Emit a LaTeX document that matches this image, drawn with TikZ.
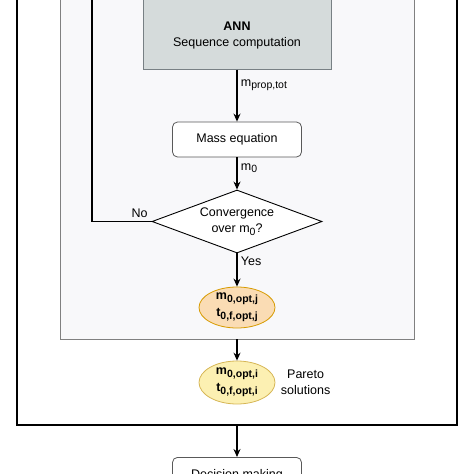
\documentclass[tikz,border=0pt]{standalone}
\usepackage{fontspec}
\setmainfont{Liberation Sans}
\usetikzlibrary{arrows.meta,positioning,shapes.geometric}

\definecolor{annfill}{RGB}{213,219,219}
\definecolor{annline}{RGB}{120,128,132}
\definecolor{boxfill}{RGB}{248,248,250}
\definecolor{optfill}{RGB}{250,220,180}
\definecolor{optline}{RGB}{215,155,0}
\definecolor{parfill}{RGB}{252,240,178}
\definecolor{parline}{RGB}{214,182,86}

% larger subscripts than \textsubscript
\newcommand{\lowsub}[1]{\raisebox{-0.4ex}{\fontsize{10.5}{10.5}\selectfont #1}}

\begin{document}
\begin{tikzpicture}[
              x=1pt, y=-1pt,
              every node/.style={font=\fontsize{12.5}{16}\selectfont},
              procbox/.style={draw=black!65, fill=white, rounded corners=5pt,
                minimum width=129pt, minimum height=35pt, inner sep=0pt, line width=0.8pt},
              annbox/.style={draw=annline, fill=annfill, line width=1pt},
              decision/.style={diamond, draw=black, fill=white, aspect=2.7, align=center,
                minimum width=170pt, minimum height=63pt, inner sep=0pt, line width=0.9pt},
              solj/.style={ellipse, draw=optline, fill=optfill, align=center,
                minimum width=76pt, minimum height=41pt, inner sep=0pt, line width=0.8pt},
              soli/.style={ellipse, draw=parline, fill=parfill, align=center,
                minimum width=76pt, minimum height=43pt, inner sep=0pt, line width=0.8pt},
              flow/.style={-{Stealth[length=8pt,width=7pt]}, line width=1.2pt}
            ]
            \useasboundingbox (0,0) rectangle (474,474);
            \clip (0,0) rectangle (474,474);

            % Frames
            \draw[line width=1.4pt] (17,-20) rectangle (457,425);
            \draw[draw=gray, fill=boxfill, line width=0.8pt] (60,-20) rectangle (414,339);

            % ANN block (top is cut off)
            \node[annbox, minimum width=188pt, minimum height=110pt] (ann) at (237,14) {};
            \node[align=center] (annText) at (237,35) {\textbf{ANN}\\Sequence computation};

            % Inner loop
            \node[procbox] (mass) at (237,139.5) {Mass equation};
            \node[decision] (conv) at (237,221.5) {Convergence\\over m\lowsub{0}?};
            \node[solj] (optj) at (237,307.5)
              {\textbf{m\lowsub{0,opt,j}}\\[1pt]\textbf{t\lowsub{0,f,opt,j}}};

            % Outer loop
            \node[soli] (opti) at (237,382.5)
              {\textbf{m\lowsub{0,opt,i}}\\[1pt]\textbf{t\lowsub{0,f,opt,i}}};
            \node[right=2pt of opti, align=center] (pareto) {Pareto\\solutions};
            \node[procbox, anchor=north] (dec) at (237,457) {Decision making};

            \coordinate (innerS) at (237,339);
            \coordinate (outerS) at (237,425);
            \coordinate (loopTop) at (92,-20);

            % Connectors
            \draw[flow] (ann.south) -- node[right, pos=0.3]{m\lowsub{prop,tot}} (mass.north);
            \draw[flow] (mass.south) -- node[right, pos=0.33]{m\lowsub{0}} (conv.north);
            \draw[flow] (conv.south) -- node[right, pos=0.25]{Yes} (optj.north);
            \draw[line width=1.2pt] (conv.west) -| node[above, pos=0.1]{No} (loopTop);
            \draw[flow] (innerS) -- (opti.north);
            \draw[flow] (outerS) -- (dec.north);

            \end{tikzpicture}
\end{document}
